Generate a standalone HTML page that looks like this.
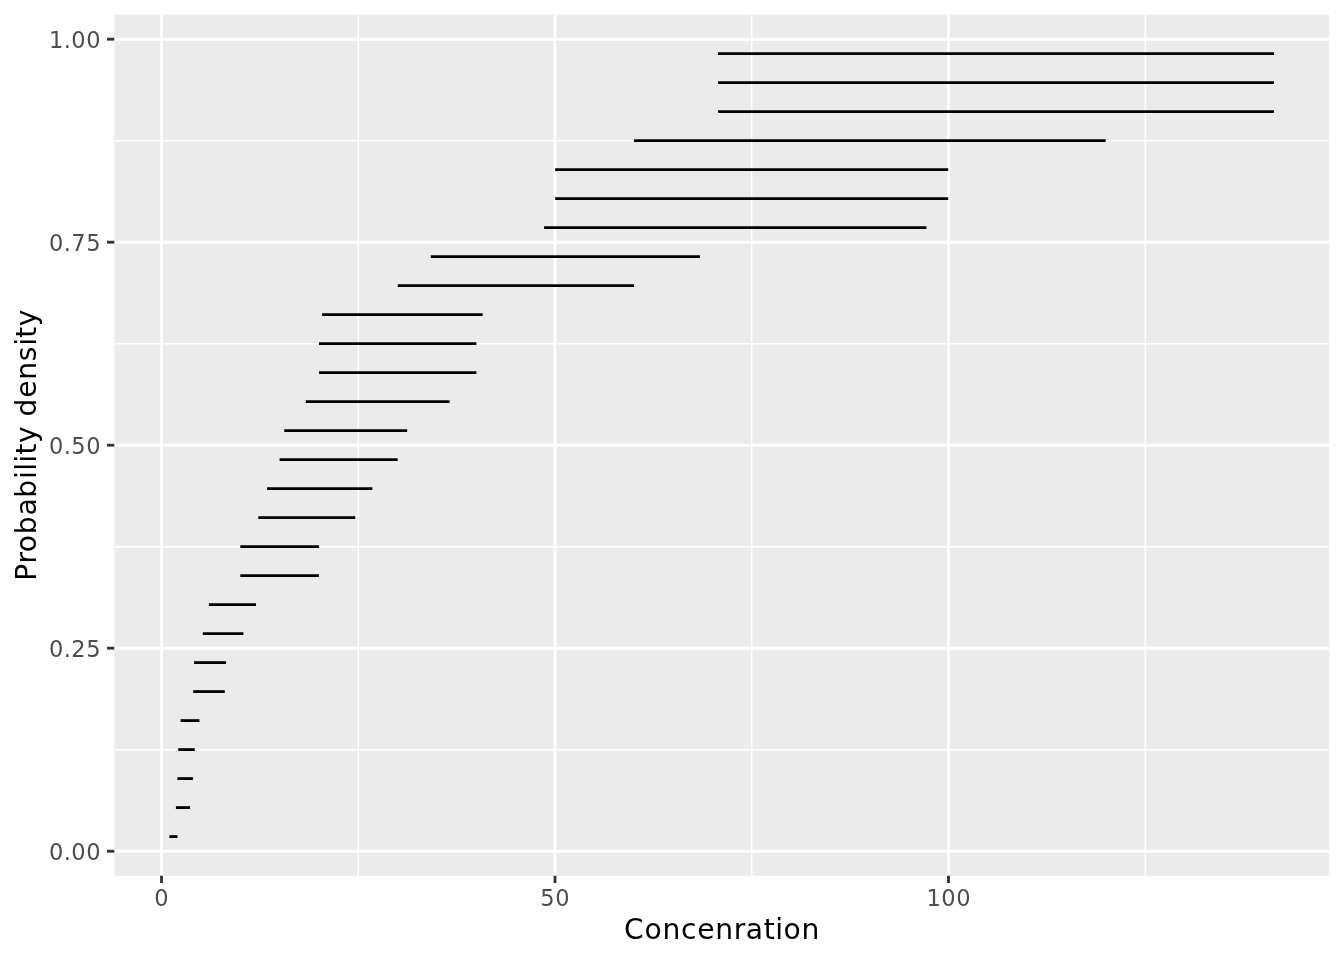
<!DOCTYPE html>
<html lang="en"><head><meta charset="utf-8"><title>Concentration plot</title>
<style>html,body{margin:0;padding:0;background:#fff;}svg{display:block;will-change:transform;}text{font-family:"DejaVu Sans","Liberation Sans",sans-serif;}</style></head><body>
<svg width="1344" height="960" viewBox="0 0 1344 960">
<rect x="0" y="0" width="1344" height="960" fill="#ffffff"/>
<rect x="114.3" y="14.67" width="1214.90" height="861.08" fill="#EBEBEB"/>
<g stroke="#ffffff" stroke-width="1.42" fill="none">
<line x1="114.3" x2="1329.2" y1="749.70" y2="749.70"/>
<line x1="114.3" x2="1329.2" y1="546.70" y2="546.70"/>
<line x1="114.3" x2="1329.2" y1="343.70" y2="343.70"/>
<line x1="114.3" x2="1329.2" y1="140.70" y2="140.70"/>
<line x1="358.25" x2="358.25" y1="14.67" y2="875.75"/>
<line x1="751.75" x2="751.75" y1="14.67" y2="875.75"/>
<line x1="1145.25" x2="1145.25" y1="14.67" y2="875.75"/>
</g>
<g stroke="#ffffff" stroke-width="2.85" fill="none">
<line x1="114.3" x2="1329.2" y1="851.20" y2="851.20"/>
<line x1="114.3" x2="1329.2" y1="648.20" y2="648.20"/>
<line x1="114.3" x2="1329.2" y1="445.20" y2="445.20"/>
<line x1="114.3" x2="1329.2" y1="242.20" y2="242.20"/>
<line x1="114.3" x2="1329.2" y1="39.20" y2="39.20"/>
<line x1="161.50" x2="161.50" y1="14.67" y2="875.75"/>
<line x1="555.00" x2="555.00" y1="14.67" y2="875.75"/>
<line x1="948.50" x2="948.50" y1="14.67" y2="875.75"/>
</g>
<g stroke="#000000" stroke-width="2.85" fill="none" stroke-linecap="butt">
<line x1="169.35" x2="177.45" y1="836.60" y2="836.60"/>
<line x1="175.9" x2="190.1" y1="807.60" y2="807.60"/>
<line x1="177.4" x2="193.1" y1="778.60" y2="778.60"/>
<line x1="178.25" x2="194.75" y1="749.60" y2="749.60"/>
<line x1="180.55" x2="199.45" y1="720.60" y2="720.60"/>
<line x1="193.15" x2="224.75" y1="691.60" y2="691.60"/>
<line x1="194.1" x2="226.0" y1="662.60" y2="662.60"/>
<line x1="202.8" x2="243.4" y1="633.60" y2="633.60"/>
<line x1="208.9" x2="256.0" y1="604.60" y2="604.60"/>
<line x1="240.3" x2="318.9" y1="575.60" y2="575.60"/>
<line x1="240.3" x2="318.9" y1="546.60" y2="546.60"/>
<line x1="258.3" x2="355.2" y1="517.60" y2="517.60"/>
<line x1="267.1" x2="372.4" y1="488.60" y2="488.60"/>
<line x1="279.6" x2="397.65" y1="459.60" y2="459.60"/>
<line x1="284.3" x2="407.15" y1="430.60" y2="430.60"/>
<line x1="305.8" x2="449.65" y1="401.60" y2="401.60"/>
<line x1="319.05" x2="476.4" y1="372.60" y2="372.60"/>
<line x1="319.05" x2="476.4" y1="343.60" y2="343.60"/>
<line x1="322.1" x2="482.65" y1="314.60" y2="314.60"/>
<line x1="397.8" x2="633.9" y1="285.60" y2="285.60"/>
<line x1="430.8" x2="699.9" y1="256.60" y2="256.60"/>
<line x1="544.1" x2="926.4" y1="227.60" y2="227.60"/>
<line x1="555.1" x2="948.2" y1="198.60" y2="198.60"/>
<line x1="555.1" x2="948.2" y1="169.60" y2="169.60"/>
<line x1="634.05" x2="1105.7" y1="140.60" y2="140.60"/>
<line x1="718.1" x2="1273.95" y1="111.60" y2="111.60"/>
<line x1="718.1" x2="1273.95" y1="82.60" y2="82.60"/>
<line x1="718.1" x2="1273.95" y1="53.60" y2="53.60"/>
</g>
<g stroke="#333333" stroke-width="2.85" fill="none">
<line x1="106.97" x2="114.3" y1="851.20" y2="851.20"/>
<line x1="106.97" x2="114.3" y1="648.20" y2="648.20"/>
<line x1="106.97" x2="114.3" y1="445.20" y2="445.20"/>
<line x1="106.97" x2="114.3" y1="242.20" y2="242.20"/>
<line x1="106.97" x2="114.3" y1="39.20" y2="39.20"/>
<line x1="161.50" x2="161.50" y1="875.75" y2="883.08"/>
<line x1="555.00" x2="555.00" y1="875.75" y2="883.08"/>
<line x1="948.50" x2="948.50" y1="875.75" y2="883.08"/>
</g>
<text transform="translate(101.20,859.65) scale(0.9600,1.0000)" x="-54.44 -38.90 -31.12 -15.58" y="0" font-size="23.47px" fill="#4D4D4D">0.00</text>
<text transform="translate(101.20,656.65) scale(0.9600,1.0000)" x="-54.44 -38.90 -31.12 -15.58" y="0" font-size="23.47px" fill="#4D4D4D">0.25</text>
<text transform="translate(101.20,453.65) scale(0.9600,1.0000)" x="-54.44 -38.90 -31.12 -15.58" y="0" font-size="23.47px" fill="#4D4D4D">0.50</text>
<text transform="translate(101.20,250.65) scale(0.9600,1.0000)" x="-54.44 -38.90 -31.12 -15.58" y="0" font-size="23.47px" fill="#4D4D4D">0.75</text>
<text transform="translate(101.20,47.65) scale(0.9600,1.0000)" x="-54.44 -38.90 -31.12 -15.58" y="0" font-size="23.47px" fill="#4D4D4D">1.00</text>
<text transform="translate(161.80,906.10) scale(0.9600,1.0000)" x="-7.78" y="0" font-size="23.47px" fill="#4D4D4D">0</text>
<text transform="translate(555.30,906.10) scale(0.9600,1.0000)" x="-15.56 -0.02" y="0" font-size="23.47px" fill="#4D4D4D">50</text>
<text transform="translate(948.80,906.10) scale(0.9600,1.0000)" x="-23.33 -7.79 7.77" y="0" font-size="23.47px" fill="#4D4D4D">100</text>
<text transform="translate(722.05,939.00) scale(0.9880,1.0000)" x="-99.19 -78.47 -60.31 -41.49 -25.17 -6.90 11.92 24.11 42.30 53.94 62.19 80.35" y="0" font-size="28.5px" fill="#000000">Concenration</text>
<text transform="translate(36.00,444.80) rotate(-90) scale(0.9600,0.9870)" x="-141.61 -123.74 -111.84 -93.16 -73.75 -55.04 -35.65 -27.16 -18.68 -10.18 1.80 19.88 29.58 48.98 67.77 87.13 103.05 111.53 123.51" y="0" font-size="29.33px" fill="#000000">Probability density</text>
</svg></body></html>
